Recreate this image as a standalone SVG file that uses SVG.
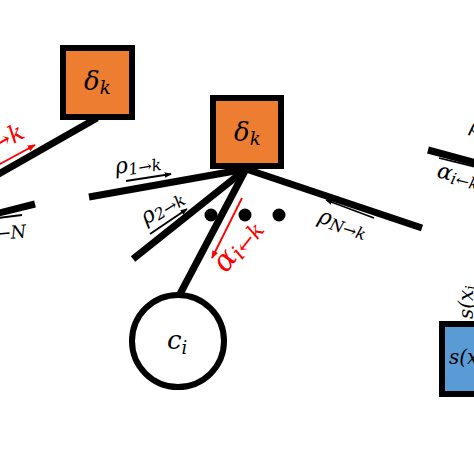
<svg xmlns="http://www.w3.org/2000/svg" width="474" height="474" viewBox="0 0 474 474">
<defs>
<style>
.edge{stroke:#000;stroke-width:7;stroke-linecap:butt;fill:none}
.thin{stroke:#000;stroke-width:1.8;fill:none}
.red{stroke:#f00;stroke-width:1.8;fill:none}
.fac{fill:#ED7D31;stroke:#000;stroke-width:6}
.var{fill:#fff;stroke:#000;stroke-width:6}
.blue{fill:#5B9BD5;stroke:#000;stroke-width:6}
.m{font-family:"DejaVu Serif","Liberation Serif",serif;font-style:italic;fill:#000}
.mr{font-family:"DejaVu Serif","Liberation Serif",serif;font-style:italic;fill:#f00}
</style>
<marker id="ah" viewBox="0 0 10 10" refX="9" refY="5" markerWidth="7" markerHeight="7" orient="auto" markerUnits="userSpaceOnUse">
<path d="M0,1 L10,5 L0,9 z" fill="#000"/>
</marker>
<marker id="ahr" viewBox="0 0 10 10" refX="9" refY="5" markerWidth="8" markerHeight="8" orient="auto" markerUnits="userSpaceOnUse">
<path d="M0,1 L10,5 L0,9 z" fill="#f00"/>
</marker>
</defs>
<rect width="474" height="474" fill="#fff"/>
<g id="connectors">
<line class="edge" x1="97" y1="118" x2="-5" y2="176"/>
<line class="edge" x1="-5" y1="214" x2="35" y2="204"/>
<line class="edge" x1="246" y1="169" x2="89" y2="197"/>
<line class="edge" x1="246" y1="169" x2="133" y2="259"/>
<line class="edge" x1="246" y1="169" x2="180" y2="294"/>
<line class="edge" x1="246" y1="169" x2="422" y2="228"/>
<line class="edge" x1="428" y1="150" x2="480" y2="164"/>
<line class="red" x1="-2" y1="165" x2="35" y2="145" marker-end="url(#ahr)"/>
<line class="thin" x1="-2" y1="218" x2="22" y2="215"/>
<line class="thin" x1="126" y1="181" x2="171" y2="174" marker-end="url(#ah)"/>
<line class="thin" x1="150" y1="234" x2="187" y2="209" marker-end="url(#ah)"/>
<line class="red" x1="242" y1="198" x2="212" y2="258" marker-end="url(#ahr)"/>
<line class="thin" x1="374" y1="218" x2="326" y2="200" marker-end="url(#ah)"/>
<line class="thin" x1="439" y1="158" x2="476" y2="167"/>
<circle cx="211" cy="215" r="6.5" fill="#000"/>
<circle cx="245" cy="215" r="6.5" fill="#000"/>
<circle cx="279" cy="215" r="6.5" fill="#000"/>
</g>
<g id="labels">
<text class="mr" font-size="24" transform="translate(-4,154) rotate(-29.5)">→k</text>
<text class="m" font-size="18" transform="translate(-4,240) rotate(-5)">←N</text>
<text class="m" font-size="22" transform="translate(116,174) rotate(-9)">ρ<tspan font-size="16" dy="3">1→k</tspan></text>
<text class="m" font-size="22" transform="translate(146,225) rotate(-32)">ρ<tspan font-size="16" dy="3">2→k</tspan></text>
<text class="mr" font-size="30" transform="translate(226,274) rotate(-52)">α<tspan font-size="22" dy="4">i←k</tspan></text>
<text class="m" font-size="22" transform="translate(317,222) rotate(18)">ρ<tspan font-size="16" dy="3">N→k</tspan></text>
<text class="m" font-size="22" transform="translate(436,177) rotate(14)">α<tspan font-size="16" dy="3">i←k</tspan></text>
<text class="m" font-size="20" transform="translate(469,131) rotate(14)">ρ</text>
<text class="m" font-size="20" transform="translate(473,319) rotate(-90)">s(x<tspan font-size="14" dy="3">i</tspan></text>
</g>
<g id="factor1">
<rect class="fac" x="63" y="48" width="69" height="69"/>
<text class="m" font-size="26" x="84" y="90">δ<tspan font-size="18" dy="4">k</tspan></text>
</g>
<g id="factor2">
<rect class="fac" x="213" y="98" width="68" height="68"/>
<text class="m" font-size="26" x="234" y="141">δ<tspan font-size="18" dy="4">k</tspan></text>
</g>
<g id="var_ci">
<circle class="var" cx="178" cy="341" r="46"/>
<text class="m" font-size="26" x="167" y="349">c<tspan font-size="18" dy="5">i</tspan></text>
</g>
<g id="evidence">
<rect class="blue" x="442" y="324" width="60" height="70"/>
<text class="m" font-size="20" x="449" y="364">s(x</text>
</g>
</svg>
